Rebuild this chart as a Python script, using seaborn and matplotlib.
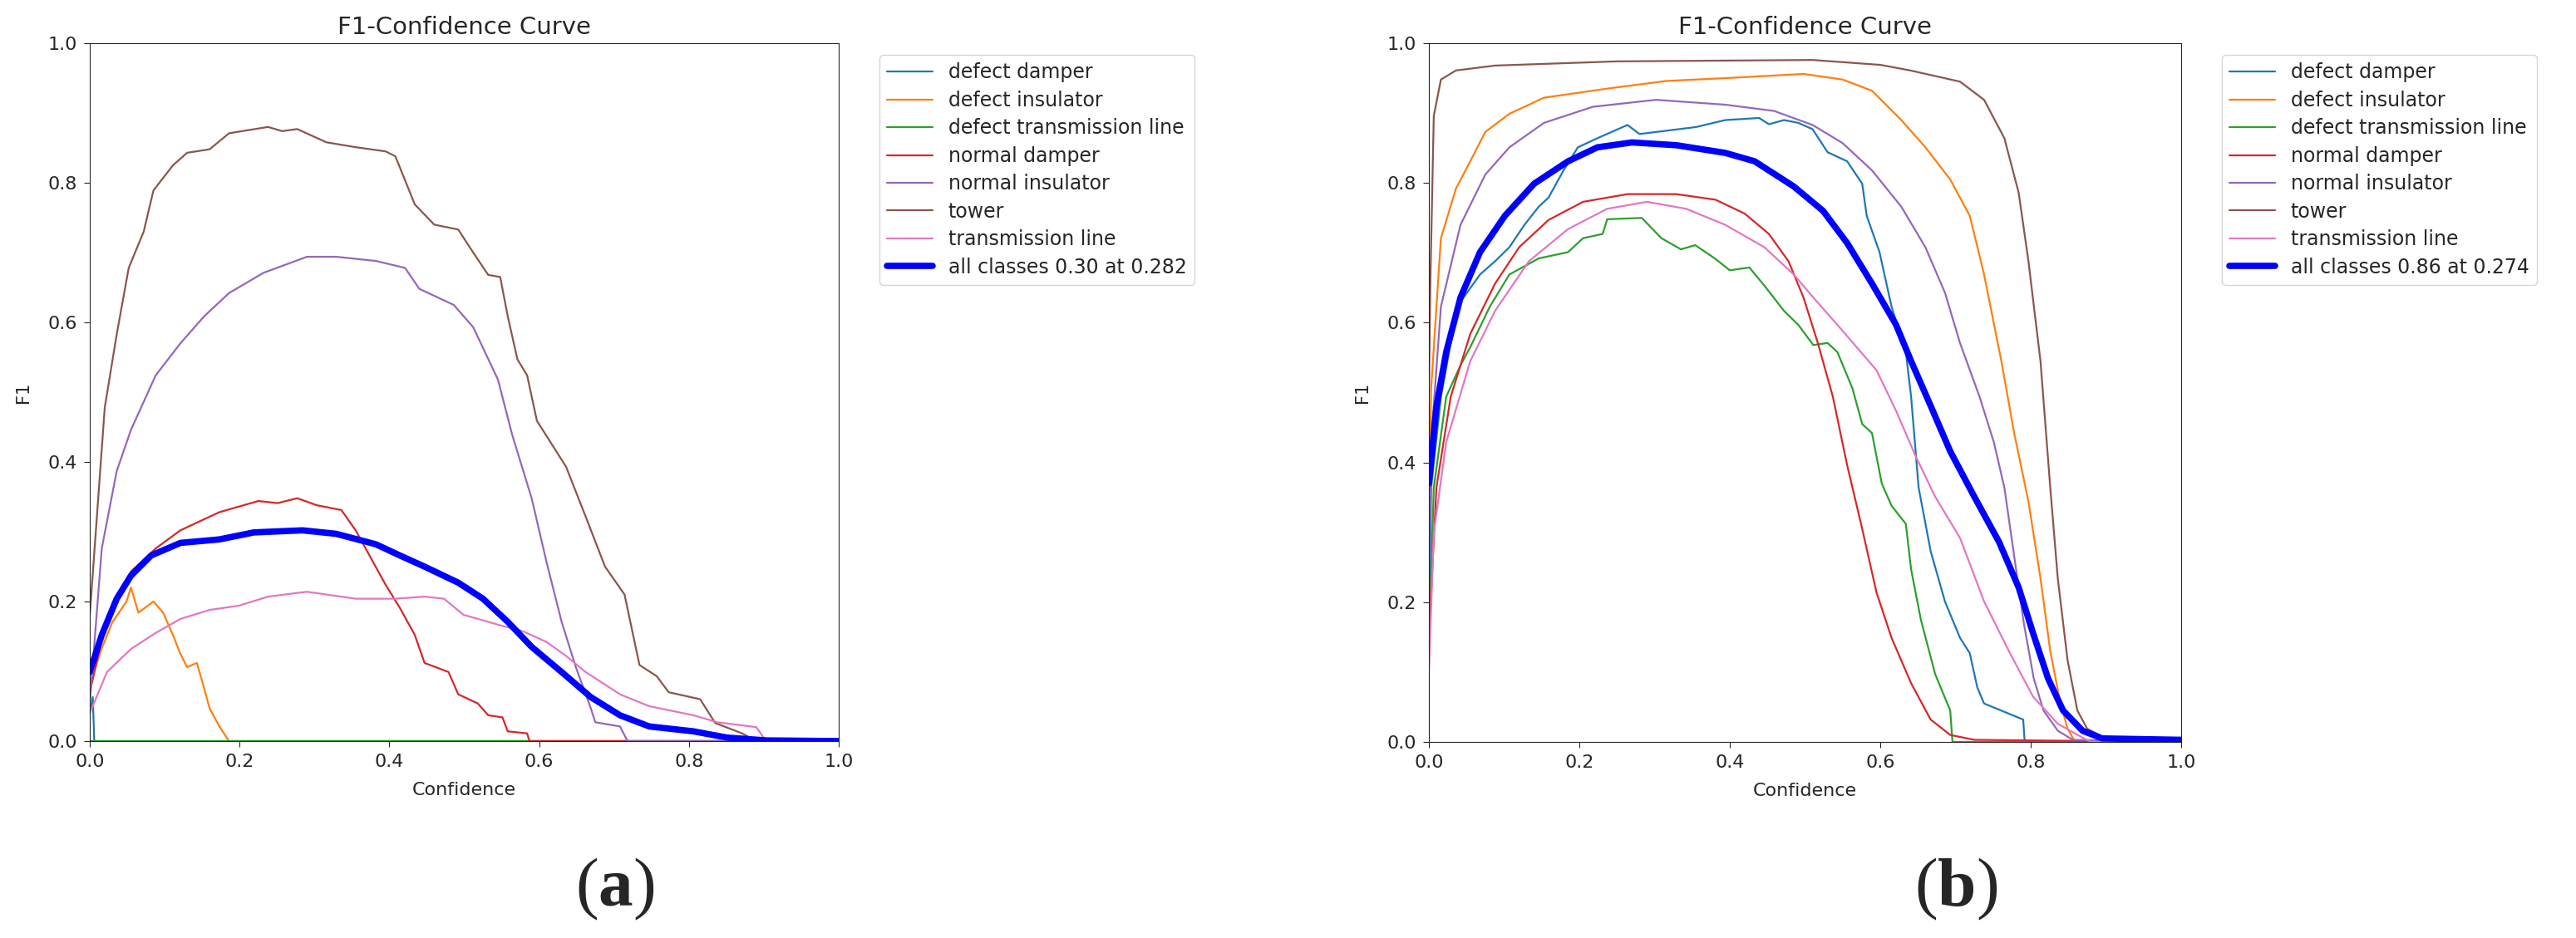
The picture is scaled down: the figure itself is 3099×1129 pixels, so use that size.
import numpy as np
import pandas as pd
import matplotlib
matplotlib.use("Agg")
import matplotlib.pyplot as plt
import seaborn as sns

# class names and colours
classes = ["defect damper", "defect insulator", "defect transmission line",
           "normal damper", "normal insulator", "tower", "transmission line"]
colors = ["tab:blue", "tab:orange", "tab:green", "tab:red", "tab:purple", "tab:brown", "tab:pink"]

## (a) curves
a_defect_damper_x = [0.0, 0.004, 0.006, 1.0]
a_defect_damper_y = [0.04, 0.063, 0.0, 0.0]
a_defect_insulator_x = [0.0, 0.015, 0.03, 0.049, 0.055, 0.065, 0.085, 0.098, 0.111, 0.121, 0.13, 0.143,
                        0.15, 0.16, 0.173, 0.186, 1.0]
a_defect_insulator_y = [0.08, 0.13, 0.17, 0.20, 0.22, 0.184, 0.2, 0.184, 0.152, 0.125, 0.106, 0.112,
                        0.086, 0.047, 0.021, 0.0, 0.0]
a_defect_tl_x = [0.0, 1.0]
a_defect_tl_y = [0.0, 0.0]
a_normal_damper_x = [0.0, 0.023, 0.055, 0.088, 0.121, 0.173, 0.225, 0.251, 0.277, 0.303, 0.336, 0.355, 0.375,
                     0.395, 0.414, 0.434, 0.447, 0.479, 0.492, 0.518, 0.532, 0.551, 0.558, 0.584, 0.587, 1.0]
a_normal_damper_y = [0.07, 0.178, 0.243, 0.276, 0.302, 0.328, 0.344, 0.341, 0.348, 0.338, 0.331, 0.302, 0.263,
                     0.224, 0.191, 0.152, 0.112, 0.099, 0.067, 0.054, 0.037, 0.034, 0.014, 0.011, 0.0, 0.0]
a_normal_insulator_x = [0.0, 0.016, 0.036, 0.055, 0.088, 0.121, 0.153, 0.186, 0.232, 0.29, 0.329, 0.382, 0.421,
                        0.44, 0.486, 0.512, 0.545, 0.564, 0.59, 0.61, 0.63, 0.649, 0.669, 0.675, 0.708, 0.718, 1.0]
a_normal_insulator_y = [0.054, 0.276, 0.387, 0.446, 0.524, 0.57, 0.609, 0.642, 0.671, 0.694, 0.694, 0.688, 0.678,
                        0.648, 0.625, 0.593, 0.518, 0.439, 0.348, 0.256, 0.171, 0.106, 0.047, 0.027, 0.021, 0.0, 0.0]
a_tower_x = [0.0, 0.02, 0.036, 0.052, 0.072, 0.085, 0.111, 0.13, 0.16, 0.186, 0.238, 0.257, 0.277, 0.316, 0.355,
             0.395, 0.408, 0.434, 0.46, 0.492, 0.512, 0.532, 0.548, 0.558, 0.571, 0.584, 0.597, 0.636, 0.662,
             0.688, 0.714, 0.734, 0.757, 0.773, 0.815, 0.835, 0.871, 0.89, 1.0]
a_tower_y = [0.18, 0.478, 0.583, 0.678, 0.73, 0.789, 0.825, 0.843, 0.848, 0.871, 0.88, 0.874, 0.877, 0.858, 0.851,
             0.845, 0.838, 0.769, 0.74, 0.733, 0.70, 0.668, 0.665, 0.609, 0.547, 0.524, 0.459, 0.393, 0.322,
             0.25, 0.21, 0.109, 0.093, 0.07, 0.06, 0.026, 0.011, 0.0, 0.0]
a_tl_x = [0.0, 0.023, 0.055, 0.088, 0.121, 0.16, 0.199, 0.238, 0.29, 0.355, 0.408, 0.447, 0.473, 0.499, 0.551,
          0.577, 0.61, 0.636, 0.662, 0.708, 0.747, 0.806, 0.838, 0.89, 0.903, 1.0]
a_tl_y = [0.04, 0.099, 0.132, 0.155, 0.175, 0.188, 0.194, 0.207, 0.214, 0.204, 0.204, 0.207, 0.204, 0.181, 0.165,
          0.158, 0.142, 0.122, 0.099, 0.067, 0.05, 0.037, 0.027, 0.02, 0.0, 0.0]
a_all_x = [0.0, 0.016, 0.036, 0.055, 0.082, 0.121, 0.173, 0.219, 0.284, 0.329, 0.382, 0.414, 0.447, 0.492, 0.525,
           0.558, 0.59, 0.63, 0.669, 0.708, 0.747, 0.806, 0.851, 0.903, 1.0]
a_all_y = [0.099, 0.152, 0.204, 0.237, 0.266, 0.284, 0.289, 0.299, 0.302, 0.297, 0.282, 0.266, 0.25, 0.227, 0.204,
           0.171, 0.135, 0.099, 0.063, 0.037, 0.021, 0.014, 0.005, 0.001, 0.0]
a_all_label = "all classes 0.30 at 0.282"

## (b) curves
b_defect_damper_x = [0.0, 0.003, 0.016, 0.029, 0.042, 0.068, 0.088, 0.107, 0.127, 0.146, 0.159, 0.179, 0.198,
                     0.224, 0.264, 0.28, 0.355, 0.394, 0.439, 0.452, 0.472, 0.491, 0.51, 0.53, 0.556, 0.576,
                     0.582, 0.599, 0.615, 0.634, 0.641, 0.651, 0.667, 0.686, 0.706, 0.719, 0.729, 0.738, 0.79,
                     0.792, 1.0]
b_defect_damper_y = [0.15, 0.364, 0.494, 0.571, 0.63, 0.669, 0.688, 0.708, 0.74, 0.766, 0.779, 0.818, 0.851,
                     0.864, 0.883, 0.87, 0.88, 0.89, 0.893, 0.884, 0.89, 0.886, 0.877, 0.844, 0.831, 0.799,
                     0.753, 0.701, 0.623, 0.558, 0.494, 0.364, 0.273, 0.201, 0.149, 0.127, 0.078, 0.055, 0.032,
                     0.0, 0.0]
b_defect_insulator_x = [0.0, 0.003, 0.016, 0.036, 0.055, 0.075, 0.107, 0.153, 0.237, 0.316, 0.394, 0.498, 0.55,
                        0.589, 0.628, 0.66, 0.693, 0.719, 0.738, 0.761, 0.778, 0.797, 0.813, 0.826, 0.839, 0.849,
                        0.859, 1.0]
b_defect_insulator_y = [0.3, 0.506, 0.721, 0.792, 0.831, 0.873, 0.899, 0.922, 0.935, 0.946, 0.95, 0.956, 0.948,
                        0.932, 0.89, 0.851, 0.805, 0.753, 0.669, 0.545, 0.442, 0.344, 0.234, 0.13, 0.058, 0.019,
                        0.0, 0.0]
b_defect_tl_x = [0.0, 0.0065, 0.023, 0.042, 0.055, 0.081, 0.107, 0.146, 0.185, 0.205, 0.231, 0.237, 0.283, 0.309,
                 0.335, 0.354, 0.38, 0.4, 0.426, 0.446, 0.472, 0.491, 0.511, 0.53, 0.543, 0.563, 0.576, 0.589,
                 0.602, 0.615, 0.634, 0.641, 0.654, 0.673, 0.693, 0.696, 1.0]
b_defect_tl_y = [0.13, 0.364, 0.494, 0.539, 0.565, 0.623, 0.669, 0.692, 0.701, 0.721, 0.727, 0.748, 0.75, 0.721,
                 0.705, 0.711, 0.692, 0.675, 0.679, 0.653, 0.617, 0.597, 0.568, 0.571, 0.558, 0.506, 0.455, 0.442,
                 0.37, 0.338, 0.312, 0.247, 0.175, 0.097, 0.045, 0.0, 0.0]
b_normal_damper_x = [0.0, 0.01, 0.029, 0.055, 0.088, 0.12, 0.159, 0.205, 0.264, 0.329, 0.381, 0.42, 0.452, 0.478,
                     0.498, 0.517, 0.537, 0.556, 0.576, 0.595, 0.615, 0.641, 0.667, 0.693, 0.725, 1.0]
b_normal_damper_y = [0.15, 0.364, 0.494, 0.584, 0.656, 0.708, 0.747, 0.773, 0.784, 0.784, 0.776, 0.756, 0.727, 0.688,
                     0.636, 0.571, 0.494, 0.396, 0.305, 0.214, 0.149, 0.084, 0.032, 0.01, 0.003, 0.0]
b_normal_insulator_x = [0.0, 0.003, 0.016, 0.042, 0.075, 0.107, 0.153, 0.218, 0.302, 0.394, 0.459, 0.51, 0.55,
                        0.589, 0.628, 0.66, 0.686, 0.706, 0.732, 0.751, 0.765, 0.778, 0.791, 0.804, 0.817, 0.836,
                        0.856, 1.0]
b_normal_insulator_y = [0.25, 0.43, 0.623, 0.74, 0.812, 0.851, 0.886, 0.909, 0.919, 0.912, 0.903, 0.883, 0.857,
                        0.818, 0.766, 0.708, 0.643, 0.571, 0.494, 0.429, 0.364, 0.266, 0.169, 0.091, 0.045, 0.016,
                        0.003, 0.0]
b_tower_x = [0.0, 0.002, 0.0065, 0.016, 0.036, 0.088, 0.25, 0.51, 0.60, 0.64, 0.706, 0.738, 0.765, 0.784, 0.797,
             0.813, 0.826, 0.836, 0.849, 0.862, 0.875, 0.891, 0.894, 1.0]
b_tower_y = [0.5, 0.66, 0.896, 0.948, 0.961, 0.968, 0.974, 0.976, 0.969, 0.961, 0.945, 0.919, 0.864, 0.786, 0.688,
             0.545, 0.364, 0.234, 0.117, 0.045, 0.019, 0.01, 0.0, 0.0]
b_tl_x = [0.0, 0.0065, 0.023, 0.055, 0.088, 0.133, 0.185, 0.237, 0.29, 0.342, 0.394, 0.446, 0.485, 0.511, 0.543,
          0.595, 0.621, 0.647, 0.673, 0.706, 0.738, 0.771, 0.803, 0.836, 0.869, 0.88, 1.0]
b_tl_y = [0.1, 0.299, 0.429, 0.545, 0.617, 0.688, 0.734, 0.763, 0.773, 0.763, 0.74, 0.708, 0.669, 0.636, 0.597,
          0.532, 0.474, 0.409, 0.351, 0.292, 0.201, 0.13, 0.065, 0.026, 0.006, 0.0, 0.0]
b_all_x = [0.0, 0.01, 0.023, 0.042, 0.068, 0.101, 0.14, 0.185, 0.224, 0.27, 0.329, 0.394, 0.433, 0.485, 0.524,
           0.556, 0.589, 0.621, 0.641, 0.667, 0.693, 0.725, 0.758, 0.784, 0.803, 0.823, 0.843, 0.869, 0.895, 1.0]
b_all_y = [0.37, 0.48, 0.558, 0.636, 0.701, 0.753, 0.799, 0.831, 0.851, 0.858, 0.854, 0.843, 0.831, 0.795, 0.76,
           0.714, 0.656, 0.597, 0.545, 0.481, 0.416, 0.351, 0.286, 0.221, 0.156, 0.091, 0.045, 0.016, 0.005, 0.003]
b_all_label = "all classes 0.86 at 0.274"


def long_form(xs, ys):
    # stack per-class lists into one table for seaborn
    rows = []
    for name, x, y in zip(classes, xs, ys):
        rows.append(pd.DataFrame({"Confidence": x, "F1": y, "cls": name}))
    return pd.concat(rows, ignore_index=True)


df_a = long_form([a_defect_damper_x, a_defect_insulator_x, a_defect_tl_x, a_normal_damper_x,
                  a_normal_insulator_x, a_tower_x, a_tl_x],
                 [a_defect_damper_y, a_defect_insulator_y, a_defect_tl_y, a_normal_damper_y,
                  a_normal_insulator_y, a_tower_y, a_tl_y])
df_b = long_form([b_defect_damper_x, b_defect_insulator_x, b_defect_tl_x, b_normal_damper_x,
                  b_normal_insulator_x, b_tower_x, b_tl_x],
                 [b_defect_damper_y, b_defect_insulator_y, b_defect_tl_y, b_normal_damper_y,
                  b_normal_insulator_y, b_tower_y, b_tl_y])

sns.set_style("ticks")
plt.rcParams['font.family'] = ['DejaVu Sans']
plt.rcParams['mathtext.fontset'] = 'custom'
plt.rcParams['mathtext.rm'] = 'Liberation Serif'
plt.rcParams['mathtext.bf'] = 'Liberation Serif:bold'

W, H = 3099, 1129
fig = plt.figure(figsize=(W / 100, H / 100), dpi=100)
fig.patch.set_facecolor("white")

panels = [
    (df_a, a_all_x, a_all_y, a_all_label, [108 / W, 1 - 892 / H, 901 / W, 840 / H], (1058 / W, 1 - 66 / H),
     (740 / W, 1 - 1070 / H), r"$\mathrm{(}\mathbf{a}\mathrm{)}$"),
    (df_b, b_all_x, b_all_y, b_all_label, [1719 / W, 1 - 893 / H, 905 / W, 841 / H], (2673 / W, 1 - 66 / H),
     (2353 / W, 1 - 1070 / H), r"$\mathrm{(}\mathbf{b}\mathrm{)}$"),
]

for df, all_x, all_y, all_label, rect, leg_pos, cap_pos, cap in panels:
    ax = fig.add_axes(rect)
    sns.lineplot(data=df, x="Confidence", y="F1", hue="cls", hue_order=classes, palette=colors,
                 estimator=None, sort=False, linewidth=1.6, legend=False, ax=ax)
    sns.lineplot(x=all_x, y=all_y, color="blue", linewidth=5.5, estimator=None, sort=False, ax=ax)
    ax.set_xlim(0, 1)
    ax.set_ylim(0, 1)
    ax.set_xticks(np.arange(0, 1.01, 0.2))
    ax.set_yticks(np.arange(0, 1.01, 0.2))
    ax.tick_params(labelsize=16, length=5, pad=6)
    ax.set_xlabel("Confidence", fontsize=16, labelpad=10)
    ax.set_ylabel("F1", fontsize=15, labelpad=14)
    ax.set_title("F1-Confidence Curve", fontsize=21, pad=8)
    ax.legend(ax.get_lines(), classes + [all_label], loc="upper left", bbox_to_anchor=leg_pos,
              bbox_transform=fig.transFigure, borderaxespad=0, fontsize=17, labelspacing=0.4,
              handlelength=2.3, frameon=True)
    fig.text(cap_pos[0], cap_pos[1], cap, fontsize=60, ha="center", va="center")

fig.savefig("out.png", dpi=100, facecolor="white")
